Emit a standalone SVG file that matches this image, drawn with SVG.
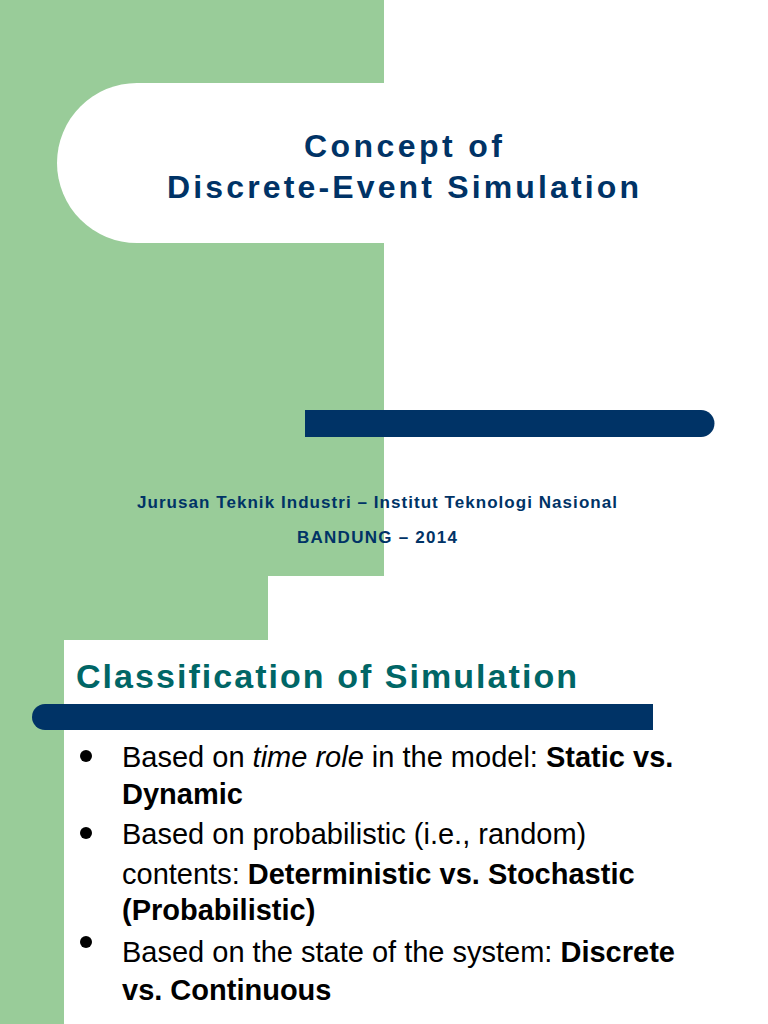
<svg xmlns="http://www.w3.org/2000/svg" width="768" height="1024" viewBox="0 0 768 1024">
<style>
.t{font-family:"Liberation Sans",Arial,sans-serif;fill:#003366;font-weight:bold}
.b{font-family:"Liberation Sans",Arial,sans-serif;font-size:29px;fill:#000}
</style>
<rect width="768" height="1024" fill="#fff"/>
<rect x="0" y="0" width="384" height="576" fill="#99cc99"/>
<rect x="0" y="576" width="268" height="64" fill="#99cc99"/>
<rect x="0" y="640" width="64" height="384" fill="#99cc99"/>
<path d="M64 1024 V660 Q64 640 84 640 H768 V1024 Z" fill="#fff"/>
<path d="M137 83 H384 V243 H137 A80 80 0 0 1 137 83 Z" fill="#fff"/>
<path d="M305 410 H701 A13.5 13.5 0 0 1 701 437 H305 Z" fill="#003366"/>
<path d="M653 704 H45 A13 13 0 0 0 45 730 H653 Z" fill="#003366"/>
<text class="t" x="403" y="157" font-size="32" text-anchor="middle" textLength="198">Concept of</text>
<text class="t" x="403" y="198" font-size="32" text-anchor="middle" textLength="472">Discrete-Event Simulation</text>
<text class="t" x="377" y="508" font-size="17" text-anchor="middle" textLength="480">Jurusan Teknik Industri – Institut Teknologi Nasional</text>
<text class="t" x="377" y="543" font-size="17" text-anchor="middle" textLength="160">BANDUNG – 2014</text>
<text x="76" y="688" font-family="Liberation Sans,Arial,sans-serif" font-size="34" font-weight="bold" fill="#006666" textLength="501">Classification of Simulation</text>
<g fill="#000"><circle cx="86" cy="756" r="6"/><circle cx="86" cy="833" r="6"/><circle cx="86" cy="942" r="6"/></g>
<text class="b" x="122" y="767">Based on <tspan font-style="italic">time role</tspan> in the model: <tspan font-weight="bold">Static vs.</tspan></text>
<text class="b" x="122" y="804" font-weight="bold">Dynamic</text>
<text class="b" x="122" y="844">Based on probabilistic (i.e., random)</text>
<text class="b" x="122" y="884">contents: <tspan font-weight="bold">Deterministic vs. Stochastic</tspan></text>
<text class="b" x="122" y="920" font-weight="bold">(Probabilistic)</text>
<text class="b" x="122" y="962">Based on the state of the system: <tspan font-weight="bold">Discrete</tspan></text>
<text class="b" x="122" y="1000" font-weight="bold">vs. Continuous</text>
</svg>
